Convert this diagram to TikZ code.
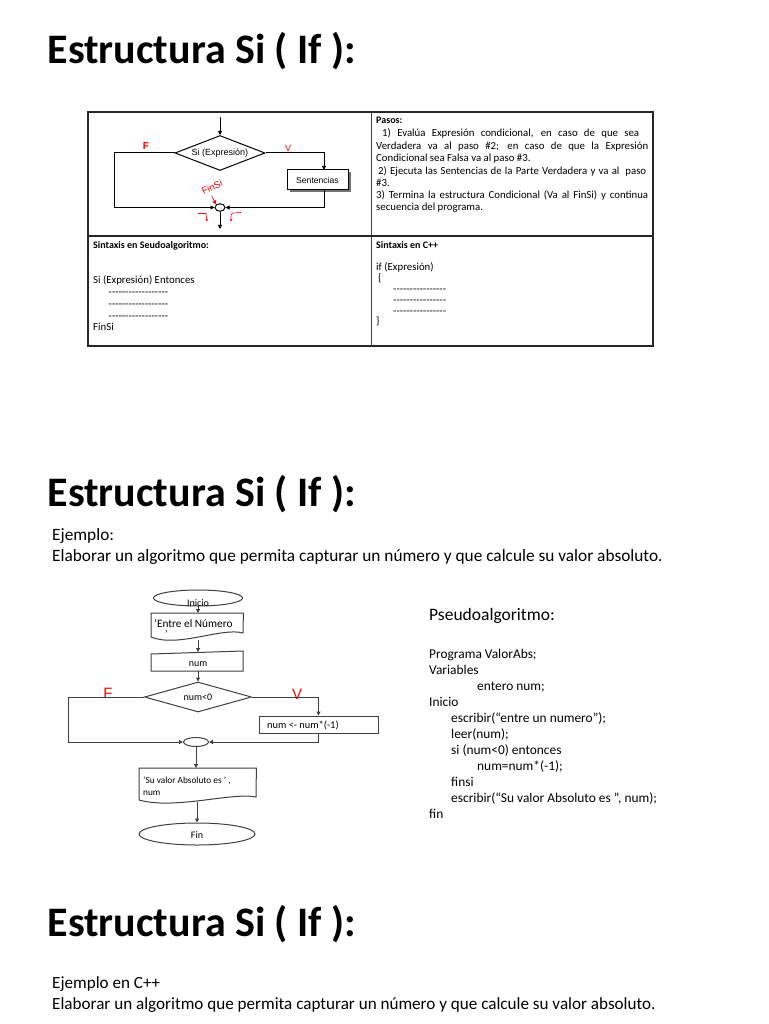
\documentclass[tikz,border=0pt]{standalone}
\usepackage{fontspec}
\setmainfont{Carlito}
\newfontfamily\arialf{Liberation Sans}
\usetikzlibrary{shapes.geometric,arrows.meta}
\tikzset{
  head/.style={anchor=base west,font=\fontsize{42}{48}\selectfont\bfseries},
  txt/.style={anchor=base west,inner sep=0,font=\fontsize{10.8}{12}\selectfont},
  btxt/.style={anchor=base west,inner sep=0,font=\fontsize{10}{12}\selectfont\bfseries},
  big/.style={anchor=base west,inner sep=0,font=\fontsize{17.3}{20}\selectfont},
  code/.style={anchor=base west,inner sep=0,font=\fontsize{13.4}{15}\selectfont},
  fcA/.style={line width=1pt,draw=black},
  fcB/.style={line width=1pt,draw=black!75},
  fctxt/.style={inner sep=0,font=\fontsize{10}{11}\selectfont},
  redlab/.style={text=red,inner sep=0,font=\arialf\fontsize{15}{16}\selectfont},
  arr/.style={-{Triangle[length=4pt,width=4pt]}},
}
\newcommand{\dashline}{-{}-{}-{}-{}-{}-{}-{}-{}-{}-{}-{}-{}-{}-{}-{}-{}-{}-}
\newcommand{\dashlineb}{-{}-{}-{}-{}-{}-{}-{}-{}-{}-{}-{}-{}-{}-{}-{}-}
\begin{document}
\begin{tikzpicture}[x=1pt,y=-1pt]
\useasboundingbox (0,0) rectangle (768,1024);
\fill[white] (0,0) rectangle (768,1024);

% headings
\node[head] (h1) at (44,64) {Estructura Si ( If ):};
\node[head] (h2) at (44,506) {Estructura Si ( If ):};
\node[head] (h3) at (44,936) {Estructura Si ( If ):};

% ---------- table ----------
\draw[line width=1.2pt,black!85] (88,112) rectangle (653,346);
\draw[line width=1pt,black!75] (371,112) -- (371,346);
\draw[line width=1.2pt,black!85] (88,236) -- (653,236);

% flowchart 1
\coordinate (t1) at (220,117);
\node[diamond,fcA,minimum width=90,minimum height=35,inner sep=0] (d1) at (220,153) {};
\node[inner sep=0,font=\arialf\fontsize{9}{10}\selectfont] (d1t) at (220,153) {Si (Expresión)};
\fill[black!55] (290,172.5) rectangle (350.5,192.5);
\node[fcA,fill=white,minimum width=61,minimum height=20,inner sep=0,font=\arialf\fontsize{8.6}{9}\selectfont] (s1) at (317.5,180) {Sentencias};
\node[ellipse,fcA,minimum width=10,minimum height=7.5,inner sep=0] (c1) at (220,207.5) {};
\coordinate (r1) at (324,170);
\coordinate (b1) at (220,229);
\draw[fcA,arr] (t1) -- (d1.north);
\draw[fcA,arr] (d1.west) -| (114,207.5) -- (c1.west);
\draw[fcA,arr] (d1.east) -| (r1);
\draw[fcA,arr] (s1.south -| r1) |- (c1.east);
\draw[fcA,arr] (c1.south) -- (b1);
% red annotations
\node[text=red,inner sep=0,font=\arialf\fontsize{10}{10}\selectfont\bfseries] (f1) at (146,146) {F};
\node[text=red,inner sep=0,font=\arialf\fontsize{9}{10}\selectfont] (v1) at (288,148) {V};
\node[text=red,inner sep=0,rotate=25,font=\arialf\fontsize{9.5}{10}\selectfont] (fs1) at (212,187) {FinSi};
\draw[red,line width=0.6pt,arr] (211.5,195.5) -- (c1.north west);
\draw[red,line width=0.6pt,-{Stealth[length=2.5pt,width=2.5pt]}] (198,213.5) -- (206,213.5) -- (207,221.5);
\draw[red,line width=0.6pt,-{Stealth[length=2.5pt,width=2.5pt]}] (241,212.5) -- (233,213) .. controls (231,214) .. (231,221.5);

% Pasos text
\node[btxt] (p0) at (376,124) {Pasos:};
\node[txt] (p1) at (376,137) {\hbox to 263pt{\hspace{6pt}1) Evalúa Expresión condicional, en caso de que sea}};
\node[txt] (p2) at (376,149.3) {\hbox to 272pt{Verdadera va al paso \#2; en caso de que la Expresión}};
\node[txt] (p3) at (376,162) {Condicional sea Falsa va al paso \#3.};
\node[txt] (p4) at (376,174.5) {\hbox to 270pt{\hspace{2pt}2) Ejecuta las Sentencias de la Parte Verdadera y va al\hspace{6pt}paso}};
\node[txt] (p5) at (376,186.5) {\#3.};
\node[txt] (p6) at (376,198.5) {\hbox to 272pt{3) Termina la estructura Condicional (Va al FinSi) y continua}};
\node[txt] (p7) at (376,210.7) {secuencia del programa.};

% Sintaxis cells
\node[btxt] (sa0) at (93,248.5) {Sintaxis en Seudoalgoritmo:};
\node[txt] (sa1) at (93,283.5) {Si (Expresión) Entonces};
\node[txt] (sa2) at (108.5,295) {\dashline};
\node[txt] (sa3) at (108.5,307) {\dashline};
\node[txt] (sa4) at (108.5,319) {\dashline};
\node[txt] (sa5) at (93,330) {FinSi};

\node[btxt] (sc0) at (376,248.5) {Sintaxis en C++};
\node[txt] (sc1) at (376,270) {if (Expresión)};
\node[txt] (sc2) at (378,281) {\{};
\node[txt] (sc3) at (393,292) {\dashlineb};
\node[txt] (sc4) at (393,303) {\dashlineb};
\node[txt] (sc5) at (393,314) {\dashlineb};
\node[txt] (sc6) at (376,324) {\}};

% ---------- Ejemplo ----------
\node[big] (ej1) at (52,540) {Ejemplo:};
\node[big] (ej2) at (52,561) {Elaborar un algoritmo que permita capturar un número y que calcule su valor absoluto.};

% flowchart 2
\node[ellipse,fcB,minimum width=89,minimum height=16,inner sep=0] (ini) at (198,598) {};
\node[fctxt] (init) at (198,603) {Inicio};
% Entre el numero (document shape)
\node[inner sep=0,minimum width=92,minimum height=26,anchor=north west] (e2) at (151,613) {};
\draw[fcB] (e2.north west) -- (e2.north east) -- (243,633) .. controls (222,627) and (178,648) .. (151,637) -- cycle;
\node[inner sep=0,font=\fontsize{11.3}{12}\selectfont,anchor=base west] (e2t) at (154,627) {‘Entre el Número};
\node[fctxt,anchor=base west] (e2u) at (165,637) {’};
% num (manual input)
\node[inner sep=0,minimum width=92,minimum height=19,anchor=north west] (m2) at (151,652) {};
\draw[fcB] (151,654) -- (243,651) -- (243,671) -- (151,671) -- cycle;
\node[fctxt] (m2t) at (198,664) {num};
% decision
\node[diamond,fcB,minimum width=107,minimum height=30,inner sep=0] (d2) at (198,697) {};
\node[fctxt] (d2t) at (198,697) {num<0};
\node[redlab] (f2) at (108,693) {F};
\node[redlab] (v2) at (297,694) {V};
% process
\node[fcB,minimum width=119,minimum height=17,inner sep=0] (n2) at (318.5,724.5) {};
\node[inner sep=0,font=\fontsize{10.4}{11}\selectfont,anchor=base west] (n2t) at (267,728.5) {num <- num*(-1)};
% connector
\node[ellipse,fcB,minimum width=25,minimum height=9,inner sep=0] (c2) at (196,742) {};
% output
\node[inner sep=0,minimum width=117,minimum height=30,anchor=north west] (o2) at (139,768) {};
\draw[fcB] (o2.north west) -- (o2.north east) -- (256,797) .. controls (232,792) and (175,810) .. (139,800) -- cycle;
\node[inner sep=0,font=\fontsize{9.3}{10}\selectfont,anchor=base west] (o2t) at (143,783) {‘Su valor Absoluto es ’ ,};
\node[inner sep=0,font=\fontsize{9.3}{10}\selectfont,anchor=base west] (o2u) at (143,795) {num};
% fin
\node[ellipse,fcB,minimum width=116,minimum height=22,inner sep=0] (fin) at (197,834) {};
\node[fctxt] (fint) at (197,835) {Fin};

\draw[fcB,arr] (198,606) -- (e2.north -| ini);
\draw[fcB,arr] (198,640) -- (198,652);
\draw[fcB,arr] (198,671) -- (d2.north);
\draw[fcB,arr] (d2.west) -| (68,742) -- (c2.west);
\draw[fcB,arr] (d2.east) -| (n2.north);
\draw[fcB,arr] (n2.south) |- (c2.east);
\draw[fcB,arr] (c2.south) -- (196,768);
\draw[fcB,arr] (197,802) -- (fin.north);

% Pseudoalgoritmo
\node[big,font=\fontsize{17.5}{20}\selectfont] (ps0) at (429,620) {Pseudoalgoritmo:};
\node[code] (ps1) at (429,658) {Programa ValorAbs;};
\node[code] (ps2) at (429,674) {Variables};
\node[code] (ps3) at (477,690) {entero num;};
\node[code] (ps4) at (429,706) {Inicio};
\node[code] (ps5) at (451,722) {escribir(“entre un numero”);};
\node[code] (ps6) at (451,738) {leer(num);};
\node[code] (ps7) at (451,754) {si (num<0) entonces};
\node[code] (ps8) at (477,770) {num=num*(-1);};
\node[code] (ps9) at (451,786) {finsi};
\node[code] (ps10) at (451,802) {escribir(“Su valor Absoluto es ”, num);};
\node[code] (ps11) at (429,818) {fin};

% C++ example
\node[big,font=\fontsize{17.1}{20}\selectfont] (ec1) at (52,988) {Ejemplo en C++};
\node[big,font=\fontsize{17.1}{20}\selectfont] (ec2) at (52,1009) {Elaborar un algoritmo que permita capturar un número y que calcule su valor absoluto.};
\end{tikzpicture}
\end{document}
